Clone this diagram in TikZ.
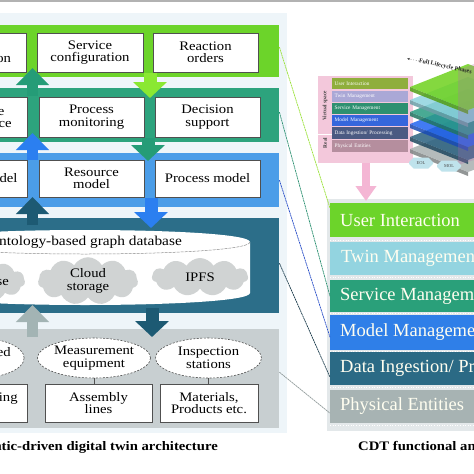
\documentclass[tikz,border=0pt]{standalone}
\usepackage{fontspec}
\setmainfont{Liberation Serif}
\newfontfamily\wfont[FakeStretch=1.13]{Liberation Serif}
\usetikzlibrary{shapes.symbols,shapes.geometric,shapes.misc,arrows.meta}
\definecolor{lA}{HTML}{6CD42A}
\definecolor{lB}{HTML}{2DA37D}
\definecolor{lC}{HTML}{4B9DE8}
\definecolor{lD}{HTML}{2C6E89}
\definecolor{lE}{HTML}{C8CFD1}
\definecolor{panel}{HTML}{EEF5F9}
\definecolor{bord}{HTML}{505050}
\definecolor{arLime}{HTML}{8AE832}
\definecolor{arTeal}{HTML}{259C77}
\definecolor{arBlue}{HTML}{2B7FF0}
\definecolor{arDark}{HTML}{1D5A73}
\definecolor{arGray}{HTML}{A3B4B4}
\definecolor{cloudc}{HTML}{D0D3D3}
\definecolor{rbg}{HTML}{E3E8EA}
\definecolor{rA}{HTML}{6CD42A}
\definecolor{rB}{HTML}{93D4E0}
\definecolor{rC}{HTML}{2AA07A}
\definecolor{rD}{HTML}{2F7FE8}
\definecolor{rE}{HTML}{2B6A85}
\definecolor{rF}{HTML}{A7B3B3}
\definecolor{cA}{HTML}{9BE23A}
\definecolor{cB}{HTML}{2A9070}
\definecolor{cC}{HTML}{2A4FC8}
\definecolor{cD}{HTML}{1F3F4F}
\definecolor{cE}{HTML}{8F9999}
\definecolor{pink}{HTML}{F3C8DB}
\definecolor{pinkar}{HTML}{F4B6D4}
\definecolor{sA}{HTML}{8FAE3C}
\definecolor{sB}{HTML}{AAA8D6}
\definecolor{sC}{HTML}{2E9070}
\definecolor{sD}{HTML}{3566DC}
\definecolor{sE}{HTML}{4B5A82}
\definecolor{sF}{HTML}{B58E9E}
\definecolor{tGr}{HTML}{6FD21E}
\definecolor{tCy}{HTML}{8FD3DF}
\definecolor{tTe}{HTML}{2A9C82}
\definecolor{tBl}{HTML}{2264F0}
\definecolor{tDk}{HTML}{2B6180}
\definecolor{tGy}{HTML}{A9B0B0}
\definecolor{tab}{HTML}{BFE3EC}
\begin{document}
\begin{tikzpicture}[x=1pt,y=-1pt,
  layer/.style={draw=none, inner sep=0pt, anchor=north west},
  box/.style={draw=bord, line width=0.6pt, fill=white, align=center, inner sep=1pt,
    font={\wfont\fontsize{13}{12.5}\selectfont}},
  ell/.style={ellipse, draw=bord, line width=0.6pt, dash pattern=on 2pt off 1.5pt, fill=white,
    minimum width=108pt, minimum height=40pt, inner sep=0pt, align=center,
    font={\wfont\fontsize{13}{12.5}\selectfont}},
  cloudn/.style={cloud, cloud puffs=11, cloud puff arc=120, aspect=2.6, fill=cloudc, draw=none,
    align=center, inner sep=0pt, font={\wfont\fontsize{13}{12.5}\selectfont}},
  bigup/.style={draw=#1, line width=11pt, line cap=butt, -{Triangle[length=17pt,width=32pt]}},
  bigdown/.style={draw=#1, line width=13pt, line cap=butt, -{Triangle[length=16pt,width=33pt]}},
  conn/.style={line width=0.7pt, dash pattern=on 2pt off 0.6pt},
  rlay/.style={anchor=north west, minimum width=150pt, inner sep=0pt, draw=none},
  rtext/.style={anchor=west, inner sep=0pt, text=white!94!yellow, font={\fontsize{18.5}{20}\selectfont}},
  strip/.style={anchor=north west, minimum width=76pt, text width=71pt, inner xsep=2.5pt, inner ysep=0pt,
    align=left, text=white, font={\fontsize{5.3}{6}\selectfont}},
  captxt/.style={inner sep=0pt, font={\wfont\bfseries\fontsize{13}{15}\selectfont}},
  tabn/.style={chamfered rectangle, chamfered rectangle xsep=3pt, fill=tab, draw=none, minimum width=24pt,
    minimum height=11pt, inner sep=0pt, text=black!70, font={\fontsize{4.5}{5}\selectfont}}
]
\useasboundingbox (0,0) rectangle (474,474);
\clip (0,0) rectangle (474,474);
\fill[white] (0,0) rectangle (474,474);
\fill[black!30] (0,0) rectangle (474,2.2);
% left panel
\fill[panel] (0,13) rectangle (287,433);
\node[layer, fill=lA, minimum width=379pt, minimum height=52pt] (l1) at (-100,25) {};
\node[layer, fill=lB, minimum width=379pt, minimum height=54pt] (l2) at (-100,88) {};
\node[layer, fill=lC, minimum width=379pt, minimum height=54pt] (l3) at (-100,153) {};
\node[layer, fill=lD, minimum width=379pt, minimum height=95pt] (l4) at (-100,218) {};
\node[layer, fill=lE, minimum width=379pt, minimum height=99pt] (l5) at (-100,329) {};
% layer 1
\node[box, minimum width=106pt, minimum height=39pt] (b11) at (-26.5,52.5) {Data\\visualization};
\node[box, minimum width=106pt, minimum height=39pt] (b12) at (90,52.5) {Service\\configuration};
\node[box, minimum width=105pt, minimum height=39pt] (b13) at (205.5,52.5) {Reaction\\orders};
% layer 2
\node[box, minimum width=105pt, minimum height=40pt] (b21) at (-25.5,117) {Predictive\\maintenance};
\node[box, minimum width=105pt, minimum height=40pt] (b22) at (91.5,117) {Process\\monitoring};
\node[box, minimum width=105pt, minimum height=40pt] (b23) at (207.5,117) {Decision\\support};
% layer 3
\node[box, minimum width=105pt, minimum height=37pt] (b31) at (-25.5,178.5) {Product model};
\node[box, minimum width=105pt, minimum height=37pt] (b32) at (91.5,178.5) {Resource\\model};
\node[box, minimum width=105pt, minimum height=37pt] (b33) at (207.5,178.5) {Process model};
% layer 4 : cylinder
\fill[white] (-80,242) .. controls (-80,226) and (250,226) .. (250,242) -- (250,293)
  .. controls (250,309) and (-80,309) .. (-80,293) -- cycle;
\draw[black!45, line width=0.5pt, dash pattern=on 3pt off 1pt] (250,242) .. controls (250,258) and (-80,258) .. (-80,242);
\node[inner sep=0pt, font={\wfont\fontsize{13.6}{13}\selectfont}] (ogd) at (85,242) {Ontology-based graph database};
\node[cloudn, minimum width=86pt, minimum height=36pt] (db) at (-18,281) {Database};
\node[cloudn, minimum width=100pt, minimum height=40pt] (cs) at (88,281) {Cloud\\storage};
\node[cloudn, minimum width=96pt, minimum height=38pt] (ipfs) at (200,277) {IPFS};
% layer 5
\node[ell, minimum width=88pt] (ns) at (-22,358) {Networked\\sensors};
\node[ell] (me) at (94,358) {Measurement\\equipment};
\node[ell, minimum width=106pt] (is) at (208.5,358) {Inspection\\stations};
\node[box, minimum width=106pt, minimum height=38pt] (mc) at (-26,403) {Manufacturing\\cells};
\node[box, minimum width=107pt, minimum height=38pt] (al) at (98.5,403) {Assembly\\lines};
\node[box, minimum width=98pt, minimum height=38pt] (mp) at (209,403) {Materials,\\Products etc.};
\draw[bord, line width=0.6pt] (ns.south) -- (ns.south |- mc.north);
\draw[bord, line width=0.6pt] (me.south) -- (me.south |- al.north);
\draw[bord, line width=0.6pt] (is.south) -- (is.south |- mp.north);
% up arrows
\coordinate (ua0) at (32.5,96); \coordinate (ua1) at (32.5,68);
\coordinate (ub0) at (32.5,160); \coordinate (ub1) at (32.5,133);
\coordinate (uc0) at (32.5,225); \coordinate (uc1) at (32.5,197);
\coordinate (ud0) at (32.5,337); \coordinate (ud1) at (32.5,305);
\draw[bigup=arTeal] (ua0) -- (ua1);
\draw[bigup=arBlue] (ub0) -- (ub1);
\draw[bigup=arDark] (uc0) -- (uc1);
\draw[bigup=arGray] (ud0) -- (ud1);
% down arrows
\coordinate (da0) at (150,72.5); \coordinate (da1) at (150,98);
\coordinate (db0) at (148,137.5); \coordinate (db1) at (148,161);
\coordinate (dc0) at (151,197.5); \coordinate (dc1) at (151,228);
\coordinate (dd0) at (152,308); \coordinate (dd1) at (152,337);
\draw[bigdown=arLime] (da0) -- (da1);
\draw[bigdown=arTeal] (db0) -- (db1);
\draw[bigdown=arBlue] (dc0) -- (dc1);
\draw[bigdown=arDark] (dd0) -- (dd1);
% caption left
\node[captxt, anchor=east] (capL) at (218,447) {Semantic-driven digital twin architecture};
% right stack
\node[layer, fill=rbg, minimum width=150pt, minimum height=232pt] (rp) at (327,199) {};
\node[rlay, fill=rA, minimum height=34pt] (r1) at (330,203) {};
\node[rlay, fill=rB, minimum height=33pt] (r2) at (330,242) {};
\node[rlay, fill=rC, minimum height=32pt] (r3) at (330,280) {};
\node[rlay, fill=rD, minimum height=35pt] (r4) at (330,315) {};
\node[rlay, fill=rE, minimum height=33pt] (r5) at (330,352) {};
\node[rlay, fill=rF, minimum height=33pt] (r6) at (330,390) {};
\node[rtext] (t1) at (340,220) {User Interaction};
\node[rtext] (t2) at (341,258.5) {Twin Management};
\node[rtext] (t3) at (340,296) {Service Management};
\node[rtext] (t4) at (340,332.5) {Model Management};
\node[rtext] (t5) at (340,368.5) {Data Ingestion/ Processing};
\node[rtext] (t6) at (340,406.5) {Physical Entities};
\foreach \yy in {240,277.5,313.5,351,387.5,425}
  \draw[white, dotted, line width=0.6pt] (330,\yy) -- (474,\yy);
\node[captxt, anchor=west] (capR) at (358,447) {CDT functional and lifecycle architecture};
% connectors
\draw[conn, draw=cA] ([yshift=4pt]l1.east) -- ([yshift=12pt]r1.west);
\draw[conn, draw=cB] ([yshift=3pt]l2.east) -- (r3.west);
\draw[conn, draw=cC] (l3.east) -- ([yshift=-4.5pt]r4.west);
\draw[conn, draw=cD] ([yshift=2.5pt]l4.east) -- ([yshift=-8.5pt]r5.west);
\draw[conn, draw=cE] ([yshift=6.5pt]l5.east) -- ([yshift=-6.5pt]r6.west);
% top right picture
\node[layer, fill=pink, minimum width=95pt, minimum height=87pt] (pp) at (318,76) {};
\draw[white, line width=0.8pt] (318,134) -- (332,134);
\node[strip, fill=sA, minimum height=11pt] (s1) at (332,78) {User Interaction};
\node[strip, fill=sB, minimum height=11pt] (s2) at (332,90.5) {Twin Management};
\node[strip, fill=sC, minimum height=11pt] (s3) at (332,103) {Service Management};
\node[strip, fill=sD, minimum height=11pt] (s4) at (332,115) {Model Management};
\node[strip, fill=sE, minimum height=11.5pt] (s5) at (332,127) {Data Ingestion/ Processing};
\node[strip, fill=sF, minimum height=12pt] (s6) at (332,140) {Physical Entities};
\node[rotate=90, inner sep=0pt, text=black!75, font={\bfseries\fontsize{5.3}{6}\selectfont}] (vs) at (325,106) {Virtual space};
\node[rotate=90, inner sep=0pt, text=black!75, font={\bfseries\fontsize{5.3}{6}\selectfont}] (rl) at (325,143) {Real};
\foreach \yy/\cc in {149/tGy,137/tDk,124/tBl,112/tTe,100/tCy,87/tGr}{
  \fill[\cc!75!black, opacity=0.85] (410,\yy) -- (468,\yy+23) -- (468,\yy+27) -- (410,\yy+4) -- cycle;
  \fill[\cc, opacity=0.85] (410,\yy) -- (468,\yy-23) -- (530,\yy) -- (468,\yy+23) -- cycle;
}
\fill[violet!60, opacity=0.25] (458,70) -- (474,64) -- (474,160) -- (458,165) -- cycle;
\node[tabn] (eol) at (421,163) {EOL};
\node[tabn] (mol) at (449,166) {MOL};
\node[rotate=-12, anchor=west, inner sep=0pt, text=black!85, font={\bfseries\fontsize{6}{7}\selectfont}] (flp) at (419,61) {Full Lifecycle Phases};
\draw[black!70, dotted, line width=0.6pt, -{Latex[length=2.5pt,width=2.5pt]}] (flp.west) -- ++(-12,-2.5);
% pink arrow
\coordinate (pa0) at (366,163); \coordinate (pa1) at (366,201);
\draw[draw=pinkar, line width=8pt, line cap=butt, -{Triangle[length=15pt,width=20pt]}] (pa0) -- (pa1);
\end{tikzpicture}
\end{document}
